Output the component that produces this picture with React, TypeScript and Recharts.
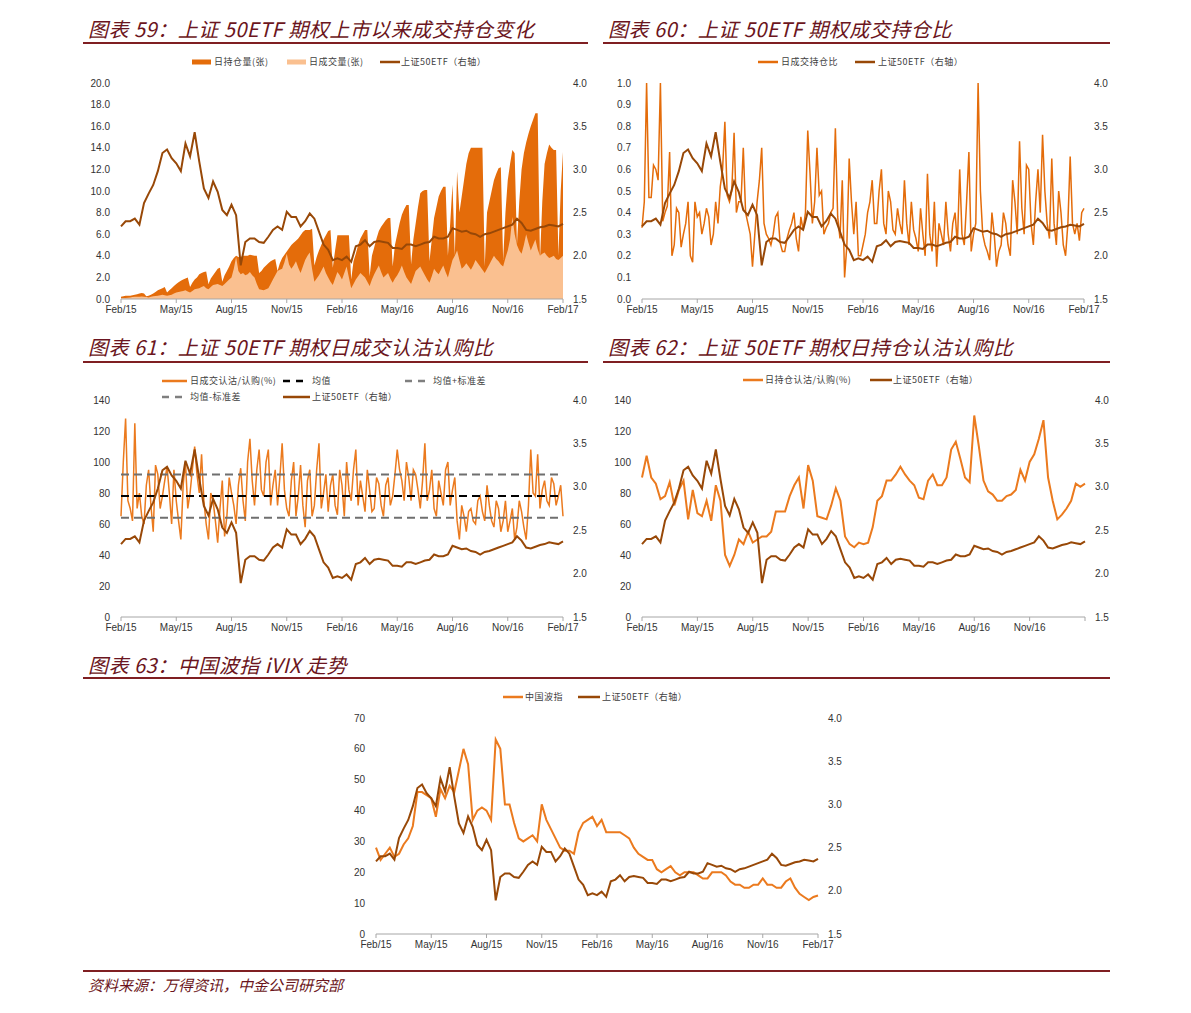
import {
  ComposedChart,
  Area,
  Line,
  XAxis,
  YAxis,
  ReferenceLine,
} from 'recharts'

// x positions are ~weekly steps (4 per month), Feb/15 .. Feb/17
const MONTHS = ['Feb/15', 'May/15', 'Aug/15', 'Nov/15', 'Feb/16', 'May/16', 'Aug/16', 'Nov/16', 'Feb/17']
const X_TICKS = MONTHS.map((_, i) => i * 12)

// 上证50ETF (right axis, all charts)
const ETF = [
  2.34, 2.40, 2.40, 2.43, 2.36, 2.61, 2.72, 2.82, 2.98, 3.19,
  3.23, 3.13, 3.07, 2.98, 3.30, 3.15, 3.43, 3.09, 2.78, 2.67,
  2.86, 2.74, 2.53, 2.47, 2.59, 2.47, 1.89, 2.16, 2.20, 2.20,
  2.16, 2.15, 2.22, 2.30, 2.34, 2.30, 2.51, 2.45, 2.45, 2.34,
  2.40, 2.49, 2.43, 2.28, 2.13, 2.07, 1.95, 1.97, 1.95, 1.99,
  1.93, 2.11, 2.13, 2.18, 2.11, 2.16, 2.17, 2.16, 2.15, 2.09,
  2.09, 2.08, 2.13, 2.13, 2.11, 2.13, 2.15, 2.16, 2.22, 2.20,
  2.20, 2.22, 2.32, 2.30, 2.28, 2.29, 2.26, 2.25, 2.22, 2.25,
  2.26, 2.28, 2.30, 2.32, 2.34, 2.36, 2.43, 2.38, 2.30, 2.29,
  2.31, 2.33, 2.34, 2.36, 2.35, 2.34, 2.37,
]

// 图表59: 日持仓量 / 日成交量 (half-week steps)
const OPEN_INTEREST = [
  0.2, 0.25, 0.3, 0.3, 0.3, 0.35, 0.4, 0.45, 0.5, 0.55,
  0.5, 0.25, 0.3, 0.4, 0.5, 0.65, 0.8, 0.9, 1.0, 1.1,
  0.6, 0.8, 1.0, 1.2, 1.4, 1.55, 1.7, 1.8, 1.9, 2.0,
  1.1, 1.5, 1.8, 2.0, 2.3, 2.4, 2.5, 2.55, 1.4, 1.9,
  2.2, 2.5, 2.8, 2.9, 1.6, 2.2, 2.6, 3.0, 3.5, 3.8,
  4.0, 3.9, 3.9, 4.0, 4.0, 4.0, 4.1, 4.05, 4.0, 4.0,
  2.4, 2.6, 2.9, 3.1, 3.3, 3.5, 3.6, 3.7, 2.6, 3.3,
  3.8, 4.1, 4.4, 4.7, 5.0, 5.2, 5.4, 5.6, 5.9, 6.2,
  6.4, 6.4, 6.4, 6.5, 3.1, 3.9, 4.5, 5.0, 5.5, 5.9,
  6.3, 6.4, 2.9, 4.5, 5.9, 5.9, 5.9, 5.9, 5.9, 5.9,
  1.8, 3.5, 4.2, 5.0, 5.6, 6.0, 6.4, 6.4, 2.1, 4.0,
  4.8, 5.6, 6.3, 6.7, 7.0, 7.3, 7.5, 7.5, 3.0, 5.0,
  6.0, 7.0, 7.8, 8.3, 8.7, 8.7, 3.2, 5.5, 7.0, 8.5,
  9.8, 10.0, 10.1, 10.1, 3.5, 5.5, 7.5, 8.5, 9.5, 10.0,
  10.4, 10.4, 4.0, 7.0, 10.6, 4.0, 11.8, 8.0, 9.5, 11.0,
  12.5, 13.5, 14.0, 14.0, 14.0, 14.0, 14.0, 14.0, 3.0, 8.0,
  9.0, 10.0, 11.0, 11.6, 12.1, 12.2, 3.6, 8.0, 11.0, 12.5,
  13.8, 13.5, 5.0, 9.0, 12.0, 13.5, 14.5, 15.3, 16.0, 16.6,
  17.2, 17.2, 3.6, 9.0, 12.5, 13.5, 14.3, 14.0, 13.8, 13.8,
  4.0, 10.0, 13.6,
]
const VOLUME = [
  0.1, 0.1, 0.1, 0.12, 0.15, 0.18, 0.2, 0.2, 0.2, 0.22,
  0.2, 0.18, 0.15, 0.2, 0.25, 0.28, 0.3, 0.35, 0.4, 0.35,
  0.3, 0.35, 0.4, 0.5, 0.6, 0.65, 0.7, 0.75, 0.8, 0.7,
  0.6, 0.75, 0.9, 0.95, 1.0, 1.1, 1.2, 1.0, 0.9, 1.1,
  1.3, 1.35, 1.4, 1.3, 1.2, 1.4, 1.6, 1.8, 2.0, 2.8,
  3.9, 2.6, 2.3, 2.4, 2.2, 2.3, 2.5, 2.2, 2.0, 1.4,
  0.9, 0.85, 0.8, 0.9, 1.0, 1.4, 1.8, 2.2, 2.6, 2.7,
  2.8, 3.4, 4.2, 3.2, 2.8, 3.1, 3.5, 2.9, 2.4, 3.0,
  3.6, 4.0, 4.3, 2.8, 1.6, 1.9, 2.2, 2.6, 3.0, 2.4,
  2.0, 1.6, 1.3, 1.9, 2.5, 2.2, 1.8, 2.4, 3.0, 2.0,
  1.0, 1.4, 1.8, 2.1, 2.4, 2.2, 2.0, 1.6, 1.2, 1.8,
  2.3, 2.7, 3.1, 2.5, 2.0, 2.2, 2.4, 1.9, 1.5, 1.9,
  2.2, 2.6, 3.1, 2.5, 2.0, 1.7, 1.4, 2.0, 2.6, 2.8,
  3.0, 2.6, 2.2, 1.8, 1.5, 2.1, 2.8, 2.5, 2.3, 2.7,
  3.1, 2.5, 2.0, 2.8, 3.6, 4.0, 4.5, 3.6, 2.8, 3.0,
  3.3, 3.0, 2.7, 3.1, 3.6, 3.3, 3.0, 2.7, 2.4, 2.8,
  3.2, 3.6, 4.0, 3.7, 3.5, 3.2, 3.0, 3.8, 4.5, 5.5,
  7.6, 6.0, 5.0, 4.5, 4.2, 5.0, 6.0, 5.2, 4.5, 5.0,
  5.5, 4.6, 4.0, 4.2, 4.3, 4.0, 3.8, 3.9, 4.0, 3.7,
  3.6, 3.8, 4.0,
]

// 图表60: 日成交持仓比 (half-week steps)
const VOL_OI_RATIO = [
  0.33, 0.45, 1.0, 0.47, 0.47, 0.62, 0.6, 0.55, 1.0, 0.36,
  0.4, 0.43, 0.68, 0.2, 0.25, 0.42, 0.4, 0.24, 0.3, 0.35,
  0.45, 0.2, 0.17, 0.45, 0.38, 0.4, 0.3, 0.35, 0.42, 0.38,
  0.25, 0.3, 0.45, 0.35, 0.52, 0.6, 0.82, 0.48, 0.45, 0.5,
  0.77, 0.4, 0.45, 0.45, 0.7, 0.4, 0.35, 0.3, 0.15, 0.3,
  0.45, 0.55, 0.7, 0.35, 0.3, 0.28, 0.25, 0.3, 0.38, 0.4,
  0.26, 0.22, 0.22, 0.28, 0.32, 0.35, 0.4, 0.28, 0.22, 0.38,
  0.32, 0.4, 0.78, 0.58, 0.35, 0.45, 0.7, 0.48, 0.5, 0.3,
  0.33, 0.35, 0.4, 0.42, 0.79, 0.38, 0.28, 0.55, 0.1, 0.25,
  0.65, 0.45, 0.3, 0.45, 0.2, 0.2, 0.25, 0.3, 0.4, 0.45,
  0.55, 0.35, 0.35, 0.5, 0.6, 0.35, 0.3, 0.5, 0.45, 0.32,
  0.3, 0.42, 0.35, 0.3, 0.55, 0.35, 0.25, 0.45, 0.32, 0.28,
  0.22, 0.42, 0.3, 0.2, 0.58, 0.3, 0.22, 0.45, 0.15, 0.35,
  0.3, 0.25, 0.45, 0.3, 0.22, 0.35, 0.4, 0.25, 0.6, 0.3,
  0.25, 0.45, 0.68, 0.22, 0.3, 0.35, 1.0, 0.5, 0.3, 0.25,
  0.22, 0.18, 0.4, 0.3, 0.15, 0.22, 0.25, 0.4, 0.35, 0.25,
  0.2, 0.55, 0.45, 0.3, 0.73, 0.42, 0.3, 0.62, 0.6, 0.35,
  0.25, 0.45, 0.6, 0.4, 0.76, 0.5, 0.35, 0.28, 0.65, 0.35,
  0.25, 0.5, 0.4, 0.25, 0.2, 0.35, 0.66, 0.35, 0.3, 0.35,
  0.27, 0.4, 0.42,
]

// 图表61: 日成交认沽/认购(%) (half-week steps)
const VOL_PUT_CALL = [
  65, 100, 128, 75, 70, 62, 125, 70, 80, 65,
  60, 85, 95, 72, 55, 98, 92, 70, 78, 88,
  97, 80, 60, 95, 75, 62, 50, 85, 100, 70,
  80, 95, 110, 92, 80, 105, 75, 60, 50, 80,
  75, 62, 48, 70, 88, 52, 65, 90, 80, 72,
  60, 85, 96, 75, 62, 100, 115, 88, 72, 95,
  108, 82, 78, 100, 108, 72, 85, 95, 72, 90,
  112, 82, 70, 65, 88, 100, 65, 78, 98, 72,
  58, 88, 95, 65, 72, 95, 112, 70, 80, 92,
  68, 85, 92, 72, 66, 95, 85, 65, 100, 82,
  75, 95, 108, 72, 88, 78, 68, 95, 82, 68,
  70, 90, 86, 72, 65, 85, 90, 72, 78, 92,
  108, 95, 88, 75, 100, 90, 75, 95, 92, 82,
  70, 88, 112, 75, 82, 95, 70, 65, 88, 80,
  72, 95, 100, 72, 82, 90, 62, 50, 72, 65,
  55, 68, 70, 62, 60, 75, 78, 68, 62, 85,
  72, 62, 58, 75, 70, 55, 62, 75, 55, 62,
  70, 50, 58, 75, 68, 58, 50, 72, 108, 80,
  78, 105, 70, 82, 88, 75, 72, 90, 86, 72,
  78, 85, 65,
]
const PUT_CALL_MEAN = 78
const PUT_CALL_UPPER = 92
const PUT_CALL_LOWER = 64

// 图表62: 日持仓认沽/认购(%)
const OI_PUT_CALL = [
  90, 104, 90, 86, 76, 78, 87, 72, 82, 88,
  63, 82, 67, 65, 75, 62, 85, 75, 40, 33,
  40, 50, 47, 55, 48, 50, 52, 52, 55, 68,
  68, 68, 78, 85, 90, 70, 98, 88, 65, 64,
  63, 72, 83, 75, 52, 47, 45, 48, 47, 48,
  58, 75, 78, 88, 88, 92, 97, 92, 88, 85,
  77, 76, 88, 92, 85, 85, 90, 108, 113, 102,
  90, 87, 130, 110, 88, 81, 79, 75, 75, 78,
  79, 82, 95, 88, 100, 105, 115, 127, 90, 75,
  63, 66, 70, 75, 86, 84, 86,
]

// 图表63: 中国波指 iVIX
const IVIX = [
  28, 24, 26, 28, 25, 26, 29, 31, 35, 46,
  46, 45, 44, 38, 47, 44, 48, 46, 53, 60,
  55, 37, 40, 41, 40, 37, 63, 60, 42, 42,
  36, 31, 30, 31, 32, 30, 42, 37, 34, 31,
  28, 27, 27, 26, 33, 36, 37, 38, 35, 37,
  33, 33, 33, 33, 32, 31, 28, 26, 25, 24,
  24, 21, 20, 21, 22, 20, 19, 20, 20, 20,
  19, 18, 18, 20, 20, 20, 19, 17, 16, 16,
  15, 15, 16, 16, 18, 16, 16, 15, 15, 17,
  18, 15, 13, 12, 11, 12, 12.5,
]

const rows = ETF.map((etf, t) => ({
  t,
  etf,
  oiPc: OI_PUT_CALL[t],
  ivix: IVIX[t],
}))

// finer rows for the noisy charts; ETF only on whole steps
const fineRows = VOL_OI_RATIO.map((ratio, k) => ({
  t: k / 2,
  ratio,
  oi: OPEN_INTEREST[k],
  vol: VOLUME[k],
  volPc: VOL_PUT_CALL[k],
  etf: k % 2 === 0 ? ETF[k / 2] : null,
}))

const DARK_ORANGE = '#E46C0A'
const PEACH = '#FAC090'
const BROWN = '#984807'
const ORANGE = '#EB7A1E'
const MAROON = '#6b1520'
const RULE = '#7f1f22'

const tickStyle = { fill: '#333', fontSize: 10, fontFamily: '"Liberation Sans", Arial, sans-serif' }
const fmt1 = (v: number) => v.toFixed(1)
const fmt0 = (v: number) => String(v)

function xAxis(hideLast = false) {
  return (
    <XAxis
      dataKey="t"
      type="number"
      domain={[0, 96]}
      ticks={X_TICKS}
      interval={0}
      tickFormatter={(v: number) => (hideLast && v === 96 ? '' : MONTHS[v / 12])}
      tick={tickStyle}
      axisLine={{ stroke: '#a6a6a6' }}
      tickLine={{ stroke: '#a6a6a6' }}
      tickSize={4}
      tickMargin={3}
      height={20}
    />
  )
}

function leftAxis(domain: number[], ticks: number[], fmt: (v: number) => string, width: number) {
  return (
    <YAxis
      yAxisId="l"
      domain={domain}
      ticks={ticks}
      interval={0}
      tickFormatter={fmt}
      width={width}
      axisLine={false}
      tickLine={false}
      tickSize={6}
      tickMargin={5}
      tick={tickStyle}
    />
  )
}

function rightAxis(width: number) {
  return (
    <YAxis
      yAxisId="r"
      orientation="right"
      domain={[1.5, 4]}
      ticks={[1.5, 2, 2.5, 3, 3.5, 4]}
      interval={0}
      tickFormatter={fmt1}
      width={width}
      axisLine={false}
      tickLine={false}
      tickSize={6}
      tickMargin={4}
      tick={tickStyle}
    />
  )
}

function etfLine() {
  return (
    <Line
      yAxisId="r"
      dataKey="etf"
      type="linear"
      stroke={BROWN}
      strokeWidth={2}
      dot={false}
      activeDot={false}
      connectNulls
      isAnimationActive={false}
    />
  )
}

function Title({ x, y, text }: { x: number; y: number; text: string }) {
  return (
    <div
      style={{
        position: 'absolute',
        left: x,
        top: y,
        fontSize: 20,
        lineHeight: '20px',
        letterSpacing: 0.5,
        fontStyle: 'italic',
        fontFamily: '"Noto Sans CJK SC", sans-serif',
        color: MAROON,
        whiteSpace: 'nowrap',
      }}
    >
      {text}
    </div>
  )
}

function Rule({ x, y, w }: { x: number; y: number; w: number }) {
  return <div style={{ position: 'absolute', left: x, top: y, width: w, height: 2, background: RULE }} />
}

type Item = { x: number; w: number; kind: 'area' | 'line' | 'dash'; color: string; label: string; labelX: number }

function Legend({ y, items }: { y: number; items: Item[] }) {
  return (
    <>
      {items.map((it) => (
        <div key={it.label}>
          <svg
            width={it.w}
            height={6}
            style={{ position: 'absolute', left: it.x, top: y - 3 }}
          >
            {it.kind === 'area' ? (
              <rect x={0} y={0.5} width={it.w} height={5} fill={it.color} />
            ) : (
              <line
                x1={0}
                y1={3}
                x2={it.w}
                y2={3}
                stroke={it.color}
                strokeWidth={2.5}
                strokeDasharray={it.kind === 'dash' ? '7 6' : undefined}
              />
            )}
          </svg>
          <div
            style={{
              position: 'absolute',
              left: it.labelX,
              top: y - 6,
              fontSize: 9,
              lineHeight: '12px',
              letterSpacing: 0.5,
              fontFamily: '"Noto Sans CJK SC", sans-serif',
              color: '#404040',
              whiteSpace: 'nowrap',
            }}
          >
            {it.label}
          </div>
        </div>
      ))}
    </>
  )
}

function Panel({ x, y, w, h, bottom, data, children }: { x: number; y: number; w: number; h: number; bottom: number; data: any[]; children: any }) {
  return (
    <div style={{ position: 'absolute', left: x, top: y }}>
      <ComposedChart width={w} height={h} data={data} margin={{ top: 8, right: 0, bottom, left: 0 }}>
        {children}
      </ComposedChart>
    </div>
  )
}

export default function App() {
  return (
    <div style={{ position: 'absolute', left: 0, top: 0, width: 1191, height: 1013, background: '#fff' }}>
      <Title x={88} y={19} text="图表 59：上证 50ETF 期权上市以来成交持仓变化" />
      <Rule x={83} y={42} w={505} />
      <Title x={608} y={19} text="图表 60：上证 50ETF 期权成交持仓比" />
      <Rule x={603} y={42} w={507} />

      <Legend
        y={62}
        items={[
          { x: 192, w: 19, kind: 'area', color: DARK_ORANGE, label: '日持仓量(张)', labelX: 214 },
          { x: 287, w: 19, kind: 'area', color: PEACH, label: '日成交量(张)', labelX: 309 },
          { x: 380, w: 20, kind: 'line', color: BROWN, label: '上证50ETF（右轴）', labelX: 401 },
        ]}
      />
      <Panel x={80} y={75} w={520} h={250} bottom={6} data={fineRows}>
        {xAxis()}
        {leftAxis([0, 20], [0, 2, 4, 6, 8, 10, 12, 14, 16, 18, 20], fmt1, 41)}
        {rightAxis(37)}
        <Area yAxisId="l" dataKey="oi" type="linear" stroke="none" fill={DARK_ORANGE} fillOpacity={1} dot={false} activeDot={false} isAnimationActive={false} />
        <Area yAxisId="l" dataKey="vol" type="linear" stroke="none" fill={PEACH} fillOpacity={1} dot={false} activeDot={false} isAnimationActive={false} />
        {etfLine()}
      </Panel>

      <Legend
        y={62}
        items={[
          { x: 758, w: 20, kind: 'line', color: DARK_ORANGE, label: '日成交持仓比', labelX: 781 },
          { x: 855, w: 20, kind: 'line', color: BROWN, label: '上证50ETF（右轴）', labelX: 878 },
        ]}
      />
      <Panel x={600} y={75} w={520} h={250} bottom={6} data={fineRows}>
        {xAxis()}
        {leftAxis([0, 1], [0, 0.1, 0.2, 0.3, 0.4, 0.5, 0.6, 0.7, 0.8, 0.9, 1], fmt1, 42)}
        {rightAxis(36)}
        <Line yAxisId="l" dataKey="ratio" type="linear" stroke={DARK_ORANGE} strokeWidth={1.5} dot={false} activeDot={false} isAnimationActive={false} />
        {etfLine()}
      </Panel>

      <Title x={88} y={337} text="图表 61：上证 50ETF 期权日成交认沽认购比" />
      <Rule x={83} y={361} w={505} />
      <Title x={608} y={337} text="图表 62：上证 50ETF 期权日持仓认沽认购比" />
      <Rule x={603} y={361} w={507} />

      <Legend
        y={381}
        items={[
          { x: 162, w: 25, kind: 'line', color: ORANGE, label: '日成交认沽/认购(%)', labelX: 190 },
          { x: 283, w: 20, kind: 'dash', color: '#000', label: '均值', labelX: 312 },
          { x: 405, w: 20, kind: 'dash', color: '#7f7f7f', label: '均值+标准差', labelX: 433 },
        ]}
      />
      <Legend
        y={397}
        items={[
          { x: 162, w: 20, kind: 'dash', color: '#7f7f7f', label: '均值-标准差', labelX: 190 },
          { x: 283, w: 27, kind: 'line', color: BROWN, label: '上证50ETF（右轴）', labelX: 312 },
        ]}
      />
      <Panel x={80} y={392} w={520} h={250} bottom={5} data={fineRows}>
        {xAxis()}
        {leftAxis([0, 140], [0, 20, 40, 60, 80, 100, 120, 140], fmt0, 41)}
        {rightAxis(37)}
        <Line yAxisId="l" dataKey="volPc" type="linear" stroke={ORANGE} strokeWidth={1.5} dot={false} activeDot={false} isAnimationActive={false} />
        <ReferenceLine yAxisId="l" y={PUT_CALL_UPPER} stroke="#6f6f6f" strokeWidth={2} strokeDasharray="8 5" />
        <ReferenceLine yAxisId="l" y={PUT_CALL_LOWER} stroke="#6f6f6f" strokeWidth={2} strokeDasharray="8 5" />
        <ReferenceLine yAxisId="l" y={PUT_CALL_MEAN} stroke="#000" strokeWidth={2} strokeDasharray="8 5" />
        {etfLine()}
      </Panel>

      <Legend
        y={380}
        items={[
          { x: 743, w: 20, kind: 'line', color: ORANGE, label: '日持仓认沽/认购(%)', labelX: 765 },
          { x: 870, w: 22, kind: 'line', color: BROWN, label: '上证50ETF（右轴）', labelX: 893 },
        ]}
      />
      <Panel x={600} y={392} w={520} h={250} bottom={5} data={rows}>
        {xAxis(true)}
        {leftAxis([0, 140], [0, 20, 40, 60, 80, 100, 120, 140], fmt0, 42)}
        {rightAxis(35)}
        <Line yAxisId="l" dataKey="oiPc" type="linear" stroke={ORANGE} strokeWidth={2} dot={false} activeDot={false} isAnimationActive={false} />
        {etfLine()}
      </Panel>

      <Title x={88} y={655} text="图表 63：中国波指 iVIX 走势" />
      <Rule x={83} y={677} w={1027} />
      <Legend
        y={697}
        items={[
          { x: 503, w: 20, kind: 'line', color: ORANGE, label: '中国波指', labelX: 525 },
          { x: 578, w: 22, kind: 'line', color: BROWN, label: '上证50ETF（右轴）', labelX: 602 },
        ]}
      />
      <Panel x={335} y={710} w={520} h={250} bottom={6} data={rows}>
        {xAxis()}
        {leftAxis([0, 70], [0, 10, 20, 30, 40, 50, 60, 70], fmt0, 41)}
        {rightAxis(37)}
        <Line yAxisId="l" dataKey="ivix" type="linear" stroke={ORANGE} strokeWidth={2} dot={false} activeDot={false} isAnimationActive={false} />
        {etfLine()}
      </Panel>

      <Rule x={83} y={970} w={1027} />
      <div
        style={{
          position: 'absolute',
          left: 88,
          top: 977,
          fontSize: 15,
          lineHeight: '16px',
          fontStyle: 'italic',
          fontFamily: '"Noto Sans CJK SC", sans-serif',
          color: MAROON,
          whiteSpace: 'nowrap',
        }}
      >
        资料来源：万得资讯，中金公司研究部
      </div>
    </div>
  )
}
